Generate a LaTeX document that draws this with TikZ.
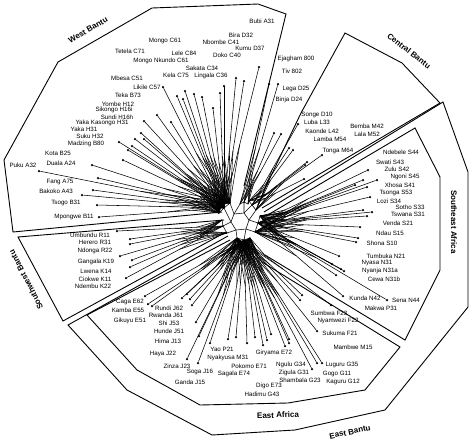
\documentclass[tikz,border=0pt]{standalone}
\usepackage{fontspec}
\setmainfont{Liberation Sans}
\usetikzlibrary{calc}
\tikzset{
  leaf/.style={circle, fill=black, inner sep=0pt, minimum size=2.5pt},
  lab/.style={font=\fontsize{6.2}{7}\selectfont, inner sep=0pt},
  grp/.style={font=\bfseries\fontsize{8}{9}\selectfont, inner sep=0pt},
  edge/.style={line width=0.55pt},
  frame/.style={line width=0.9pt, line join=miter}
}

\begin{document}
\begin{tikzpicture}[x=1pt, y=-1pt]
  \useasboundingbox (0,0) rectangle (474,445);

  \coordinate (r1) at (234,214);
  \coordinate (r2) at (244,213);
  \coordinate (r3) at (249,220);
  \coordinate (r4) at (246,229);
  \coordinate (r5) at (236,230);
  \coordinate (r6) at (231,222);
  \coordinate (hw) at (224,208);
  \coordinate (hw2) at (230,203);
  \coordinate (hw3) at (219,213);
  \coordinate (ho) at (244,202);
  \coordinate (ho2) at (240,204);
  \coordinate (ho3) at (248,204);
  \coordinate (hc) at (252,205);
  \coordinate (hc2) at (256,210);
  \coordinate (hc3) at (249,201);
  \coordinate (hs) at (258,223);
  \coordinate (hs2) at (255,232);
  \coordinate (hs3) at (260,216);
  \coordinate (he) at (244,240);
  \coordinate (he2) at (237,238);
  \coordinate (he3) at (250,238);
  \coordinate (hsw) at (223,226);
  \coordinate (hsw2) at (227,233);
  \coordinate (hsw3) at (222,220);

  \draw[edge] (r1) -- (r2) -- (r3) -- (r4) -- (r5) -- (r6) -- cycle;
  \draw[edge] (hw) -- (r6) (hw2) -- (r1) (hw3) -- (hw) -- (hw2);
  \draw[edge] (ho) -- (r2) (ho2) -- (r1) (ho3) -- (ho) -- (ho2);
  \draw[edge] (hc) -- (r2) (hc2) -- (r3) (hc3) -- (hc) -- (hc2);
  \draw[edge] (hs) -- (r3) (hs2) -- (r4) (hs3) -- (hs) -- (hs2);
  \draw[edge] (he) -- (r4) (he2) -- (r5) (he3) -- (he) -- (he2);
  \draw[edge] (hsw) -- (r6) (hsw2) -- (r5) (hsw3) -- (hsw) -- (hsw2);

  % west
  \foreach \x/\y [count=\i] in {163/87, 185/91, 177/96, 183/99, 194/94, 202/97, 213/108, 220/93,
      224/86, 236/78, 244/81, 259/67, 157/115, 144/121, 171/122, 141/133, 135/139, 144/139,
      119/142, 132/146, 128/150, 123/160, 92/165, 39/171, 98/178, 93/190, 82/195, 97/205, 99/217} {
    \node[leaf] (w\i) at (\x,\y) {};
    \draw[edge] (hw) -- (w\i);
    \draw[edge] (hw2) -- ($(hw)!.45!(w\i)$);
    \draw[edge] (hw3) -- ($(hw)!.25!(w\i)$);
  }
  \foreach \x/\y [count=\i] in {269/84, 278/84, 274/133, 281/134} {
    \node[leaf] (o\i) at (\x,\y) {};
    \draw[edge] (ho) -- (o\i);
    \draw[edge] (ho2) -- ($(ho)!.45!(o\i)$);
    \draw[edge] (ho3) -- ($(ho)!.25!(o\i)$);
  }
  % central
  \foreach \x/\y [count=\i] in {298/124, 289/148, 293/150, 322/155, 307/162, 305/165, 304/179} {
    \node[leaf] (c\i) at (\x,\y) {};
    \draw[edge] (hc) -- (c\i);
    \draw[edge] (hc2) -- ($(hc)!.45!(c\i)$);
    \draw[edge] (hc3) -- ($(hc)!.25!(c\i)$);
  }
  % southeast
  \foreach \x/\y [count=\i] in {368/170, 377/180, 363/180, 355/185, 367/187, 370/197, 363/210,
      372/212, 367/216, 360/227, 358/238, 356/242, 339/256, 332/264, 344/271, 341/269, 336/275,
      343/296, 387/300} {
    \node[leaf] (s\i) at (\x,\y) {};
    \draw[edge] (hs) -- (s\i);
    \draw[edge] (hs2) -- ($(hs)!.45!(s\i)$);
    \draw[edge] (hs3) -- ($(hs)!.25!(s\i)$);
  }
  % east
  \foreach \x/\y [count=\i] in {145/296, 148/304, 152/306, 182/298, 187/294, 192/305, 190/299,
      196/322, 199/336, 210/343, 187/359, 198/363, 228/339, 236/337, 247/343, 255/337, 263/345,
      267/340, 271/334, 285/346, 289/343, 289/339, 300/300, 302/295, 312/369, 317/363, 322/363,
      317/331, 331/305} {
    \node[leaf] (e\i) at (\x,\y) {};
    \draw[edge] (he) -- (e\i);
    \draw[edge] (he2) -- ($(he)!.45!(e\i)$);
    \draw[edge] (he3) -- ($(he)!.25!(e\i)$);
  }
  % southwest
  \foreach \x/\y [count=\i] in {117/231, 130/239, 130/244, 120/256, 132/260, 130/267, 126/278} {
    \node[leaf] (v\i) at (\x,\y) {};
    \draw[edge] (hsw) -- (v\i);
    \draw[edge] (hsw2) -- ($(hsw)!.45!(v\i)$);
    \draw[edge] (hsw3) -- ($(hsw)!.25!(v\i)$);
  }

  \foreach \t/\x/\y [count=\i] in {Bubi A31/262/21, Bira D32/241/35, Nbombe C41/221/42, Kumu D37/250/48,
      Doko C40/227/55, Mongo C61/165/41, Tetela C71/130/51, Lele C84/184/53, Mongo Nkundo C61/161/61,
      Sakata C34/202/68, Kela C75/176/75, Lingala C36/211/76, Mbesa C51/127/78, Likile C57/147/87,
      Teka B73/128/95, Yombe H12/118/104, Sikongo H16i/114/110, Sundi H16h/117/117,
      Yaka Kasongo H31/102/123, Yaka H31/84/129, Suku H32/90/136, Madzing B80/86/144,
      Kota B25/58/153, Duala A24/61/163, Puku A32/23/165, Fang A75/60/182, Bakoko A43/56/191,
      Tsogo B31/66/203, Mpongwe B11/74/217, Ejagham 800/296/59, Tiv 802/292/71, Lega D25/296/89,
      Binja D24/289/100} {
    \node[lab] (lw\i) at (\x,\y) {\t};
  }
  \foreach \t/\x/\y [count=\i] in {Songe D10/317/115, Luba L33/317/122, Kaonde L42/322/131,
      Lamba M54/330/139, Tonga M64/338/151, Bemba M42/367/126, Lala M52/367/134} {
    \node[lab] (lc\i) at (\x,\y) {\t};
  }
  \foreach \t/\x/\y [count=\i] in {Ndebele S44/401/152, Swati S43/390/162, Zulu S42/397/169,
      Ngoni S45/405/177, Xhosa S41/400/185, Tsonga S53/396/193, Lozi S34/389/201, Sotho S33/410/207,
      Tswana S31/408/214, Venda S21/398/223, Ndau S15/390/233, Shona S10/382/243,
      Tumbuka N21/386/256, Nyasa N31/377/263, Nyanja N31a/380/271, Cewa N31b/384/279,
      Kunda N42/365/298, Sena N44/406/300, Makwa P31/381/308} {
    \node[lab] (ls\i) at (\x,\y) {\t};
  }
  \foreach \t/\x/\y [count=\i] in {Sumbwa F23/329/313, Nyamwezi F22/338/321, Sukuma F21/340/333,
      Mambwe M15/353/347, Luguru G35/342/365, Gogo G11/337/374, Kaguru G12/343/382,
      Giryama E72/274/353, Ngulu G34/291/365, Zigula G31/294/373, Shambala G23/300/380,
      Digo E73/269/386, Hadimu G43/262/394, Pokomo E71/249/366, Sagala E74/234/374,
      Nyakyusa M31/228/358, Yao P21/222/349, Caga E62/130/302, Kamba E55/128/310,
      Gikuyu E51/130/321, Rundi J62/169/308, Rwanda J61/166/315, Shi J53/169/323,
      Hunde J51/169/331, Hima J13/168/341, Haya J22/163/354, Zinza J23/177/366,
      Soga J16/200/372, Ganda J15/190/382} {
    \node[lab] (le\i) at (\x,\y) {\t};
  }
  \foreach \t/\x/\y [count=\i] in {Umbundu R11/90/235, Herero R31/95/242, Ndonga R22/95/251,
      Gangala K19/96/262, Lwena K14/96/271, Ciokwe K11/95/279, Ndembu K22/93/286} {
    \node[lab] (lv\i) at (\x,\y) {\t};
  }

  % group outlines
  \draw[frame] (222,212) -- (13,232) -- (4,160) -- (58,62) -- (152,8) -- (258,4) -- (286,14) -- (244,186);
  \draw[frame] (258,205) -- (268,182) -- (301,113) -- (345,33) -- (402,63) -- (440,103) -- (262,208);
  \draw[frame] (266,216) -- (415,128) -- (440,177) -- (440,270) -- (405,340) -- (265,255);
  \draw[frame] (264,212) -- (443,102) -- (468,172) -- (468,307) -- (385,410) -- (295,430)
    -- (212,435) -- (127,390) -- (68,325) -- (228,236);
  \draw[frame] (262,262) -- (400,347) -- (365,390) -- (288,403) -- (200,405) -- (137,370)
    -- (87,315) -- (230,240);
  \draw[frame] (224,220) -- (18,237) -- (63,321) -- (226,232);

  \node[grp, rotate=30] (gwest) at (88,30) {West Bantu};
  \node[grp, rotate=-38] (gcent) at (409,51) {Central Bantu};
  \node[grp, rotate=-90] (gse) at (454,222) {Southeast Africa};
  \node[grp, rotate=117] (gsw) at (26,280) {Southwest Bantu};
  \node[grp, rotate=2] (gea) at (278,415) {East Africa};
  \node[grp, rotate=12] (geb) at (350,432) {East Bantu};
\end{tikzpicture}
\end{document}
